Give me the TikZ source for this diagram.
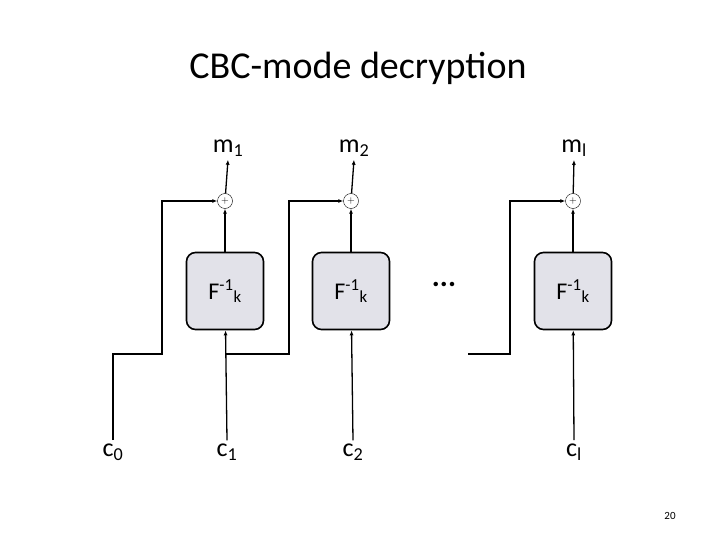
\documentclass[tikz,border=0pt]{standalone}
\usepackage{fontspec}
\setmainfont{Carlito}
\usetikzlibrary{arrows.meta, positioning}

\begin{document}
\begin{tikzpicture}[
        x=1pt, y=-1pt,
        box/.style={rectangle, draw=black, rounded corners=9pt, fill=blue!12!gray!20, line width=1.6pt, minimum width=77pt, minimum height=77pt, font=\fontsize{24}{28}\selectfont},
        xor/.style={circle, draw=black, thin, inner sep=0pt, minimum size=15pt},
        lbl/.style={font=\fontsize{26}{30}\selectfont},
        arrow/.style={-{Latex[length=5pt,width=4pt]}, line width=1.3pt},
        feed/.style={line width=1.6pt}
    ]
        \useasboundingbox (0,0) rectangle (720,540);

        % Title
        \node[font=\fontsize{38}{44}\selectfont] (title) at (358,68) {CBC-mode decryption};

        % Blocks
        \node[box] (f1) at (225,291) {F\textsuperscript{-1}\textsubscript{k}};
        \node[box] (f2) at (351,291) {F\textsuperscript{-1}\textsubscript{k}};
        \node[box] (fl) at (573,291) {F\textsuperscript{-1}\textsubscript{k}};
        \node[font=\fontsize{30}{34}\selectfont] (dots) at (444,284) {\textbf{...}};

        % XOR gates
        \node[xor] (x1) at (225,201) {$+$};
        \node[xor] (x2) at (351,201) {$+$};
        \node[xor] (xl) at (573,201) {$+$};

        % Outputs
        \node[lbl] (m1) at (228,148) {m\textsubscript{1}};
        \node[lbl] (m2) at (354,148) {m\textsubscript{2}};
        \node[lbl] (ml) at (574,148) {m\textsubscript{l}};

        % Ciphertexts
        \node[lbl] (c0) at (113,452) {c\textsubscript{0}};
        \node[lbl] (c1) at (227,452) {c\textsubscript{1}};
        \node[lbl] (c2) at (353,452) {c\textsubscript{2}};
        \node[lbl] (cl) at (574,452) {c\textsubscript{l}};

        \coordinate (s2) at (225,354);
        \coordinate (sl) at (468,354);

        % Connections
        \draw[arrow] (c1.north) -- (f1);
        \draw[arrow] (c2.north) -- (f2);
        \draw[arrow] (cl.north) -- (fl);
        \draw[arrow] (f1) -- (x1);
        \draw[arrow] (f2) -- (x2);
        \draw[arrow] (fl) -- (xl);
        \draw[arrow] (x1) -- (m1.south);
        \draw[arrow] (x2) -- (m2.south);
        \draw[arrow] (xl) -- (ml.south);

        % Chaining
        \draw[feed, -{Latex[length=5pt,width=4pt]}] (c0.north) |- (162,354) |- (x1);
        \draw[feed, -{Latex[length=5pt,width=4pt]}] (s2) -- (289,354) |- (x2);
        \draw[feed, -{Latex[length=5pt,width=4pt]}] (sl) -- (510,354) |- (xl);

        \node[font=\fontsize{11}{13}\selectfont] (page) at (670,516) {20};
    \end{tikzpicture}
\end{document}
